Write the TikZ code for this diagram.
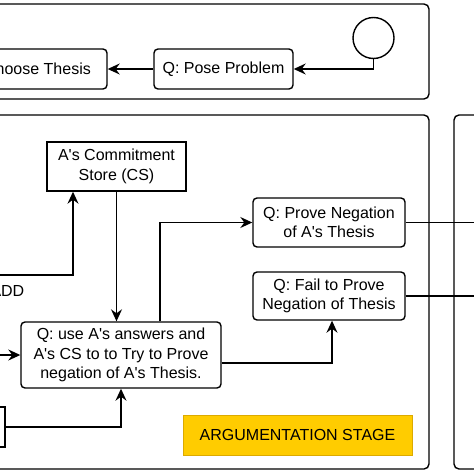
\documentclass[tikz,border=0pt]{standalone}
\usepackage{fontspec}
\setmainfont{Liberation Sans}[Ligatures=TeXOff]
\usetikzlibrary{arrows.meta,calc}
\definecolor{stageyellow}{RGB}{255,204,0}
\definecolor{stageedge}{RGB}{220,170,0}
\begin{document}
\begin{tikzpicture}[x=1pt,y=-1pt,line width=1.4pt,
  every node/.style={font=\fontsize{16}{19.5}\selectfont,inner sep=0pt},
  rbox/.style={draw,rounded corners=4pt,align=center},
  sbox/.style={draw,align=center},
  frame/.style={draw,rounded corners=5pt},
  arr/.style={-{Stealth[length=12pt,width=11pt,inset=4pt]}},
  stagelabel/.style={draw=stageedge,line width=0.8pt,fill=stageyellow}]
\useasboundingbox (0,0) rectangle (474,474);
% frames
\draw[frame] (-20,4) rectangle (429,99);
\draw[frame] (-20,115) rectangle (429,469);
\draw[frame] (454,115) rectangle (510,469);
% top stage
\node[draw,circle,minimum size=41pt] (start) at (373.5,38) {};
\node[rbox,minimum width=139pt,minimum height=40pt] (pose) at (223.5,69) {Q: Pose Problem};
\node[rbox,minimum width=139pt,minimum height=40pt] (choose) at (37.5,69) {Choose Thesis};
\draw[arr] (start.south) |- (pose.east);
\draw[arr] (pose.west) -- (choose.east);
% argumentation stage
\node[sbox,minimum width=139pt,minimum height=49pt] (cs) at (116.5,166.5) {A's Commitment\\Store (CS)};
\node[rbox,minimum width=200pt,minimum height=66pt] (use) at (121,355) {Q: use A's answers and\\A's CS to to Try to Prove\\negation of A's Thesis.};
\node[rbox,minimum width=152pt,minimum height=49pt] (prove) at (329,222.5) {Q: Prove Negation\\of A's Thesis};
\node[rbox,minimum width=152pt,minimum height=48pt] (fail) at (329,296) {Q: Fail to Prove\\Negation of Thesis};
\node[sbox,minimum width=139pt,minimum height=40pt] (prev) at (-64.5,427) {};
\node[stagelabel,minimum width=229pt,minimum height=40pt] (stage) at (297.5,435) {ARGUMENTATION STAGE};
\node[anchor=base east] (add) at (25,296) {ADD};
\coordinate (addin) at (-10,275);
\coordinate (usein) at (-10,355);
\coordinate (proveout) at (490,222.5);
\coordinate (failout) at (490,296);
\draw[arr] (addin) -| ([xshift=-43.5pt]cs.south);
\draw[arr] (cs.south) -- (cs.south |- use.north);
\draw[arr] ([xshift=39pt]use.north) |- (prove.west);
\draw (prove.east) -- (proveout);
\draw (fail.east) -- (failout);
\draw[arr] ([yshift=-8pt]use.east) -| ([xshift=3pt]fail.south);
\draw[arr] (usein) -- (use.west);
\draw[arr] (prev.east) -| (use.south);
\end{tikzpicture}
\end{document}
